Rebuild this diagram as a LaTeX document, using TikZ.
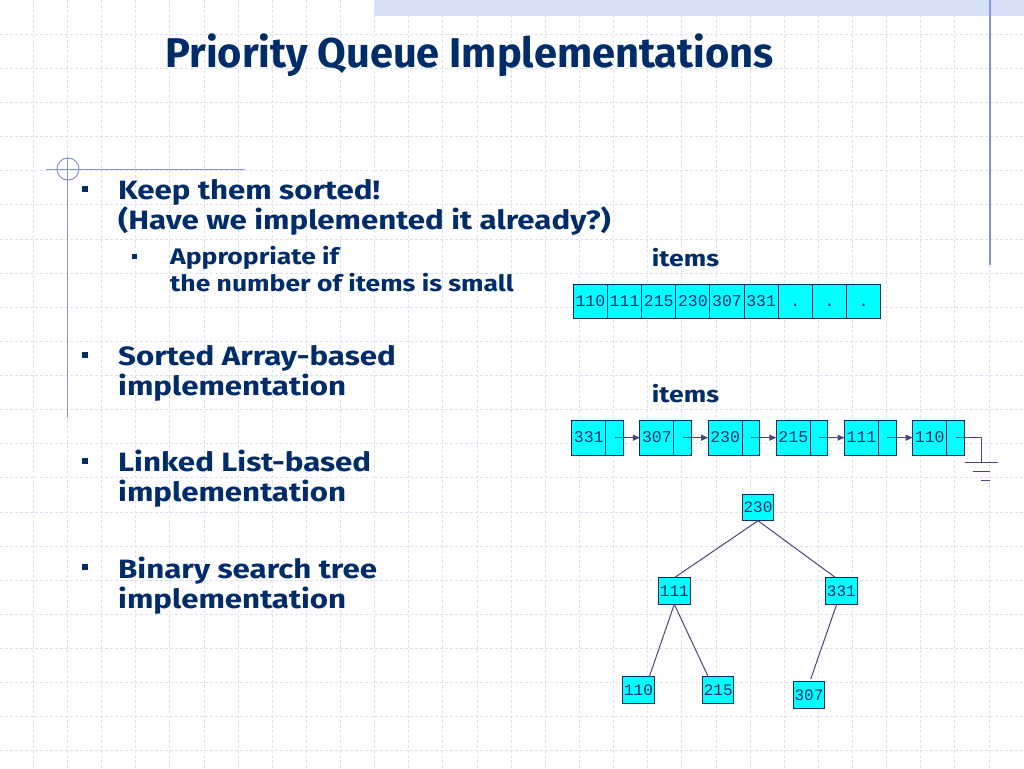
\documentclass[tikz,border=0pt]{standalone}
\usepackage{fontspec}
\setmainfont{Fira Sans}[FakeStretch=1.18]
\newfontfamily\titlefont{Fira Sans}
\setmonofont{Liberation Mono}
\usetikzlibrary{positioning,arrows.meta}

\definecolor{navy}{RGB}{0,45,105}
\definecolor{gridcol}{RGB}{220,224,243}
\definecolor{rulecol}{RGB}{135,148,222}
\definecolor{bandcol}{RGB}{214,224,246}
\definecolor{linkcol}{RGB}{75,70,125}
\definecolor{cellcol}{RGB}{0,255,255}

\begin{document}
\begin{tikzpicture}[x=1pt,y=-1pt,
  every node/.style={text=navy},
  gridline/.style={gridcol,line width=0.8pt,dash pattern=on 3pt off 2pt},
  deco/.style={rulecol,line width=1pt},
  titletext/.style={anchor=base west,inner sep=0pt,font=\titlefont\fontsize{41.6}{48}\selectfont\bfseries},
  bodytext/.style={anchor=base west,inner sep=0pt,align=left,font=\fontsize{26.5}{30}\selectfont\bfseries},
  subtext/.style={anchor=base west,inner sep=0pt,align=left,font=\fontsize{22.5}{27}\selectfont\bfseries},
  bullet/.style={rectangle,fill=navy,inner sep=0pt,minimum size=6.5pt},
  subbullet/.style={rectangle,fill=navy,inner sep=0pt,minimum size=5pt},
  cell/.style={rectangle,draw=navy,fill=cellcol,line width=1pt,inner sep=0pt,outer sep=0pt,
    minimum width=34.15pt,minimum height=34pt,text height=10pt,text depth=0pt,
    font=\fontsize{16.5}{18}\ttfamily},
  lval/.style={cell,minimum width=34pt,minimum height=35pt},
  lptr/.style={cell,minimum width=17.6pt,minimum height=35pt},
  tnode/.style={cell,minimum width=31.5pt,minimum height=26.5pt,font=\fontsize{16}{18}\ttfamily},
  link/.style={linkcol,line width=1pt,-{Triangle[length=7pt,width=6pt]}},
  edge/.style={linkcol,line width=1pt}]

  \useasboundingbox (0,0) rectangle (1024,768);
  \fill[white] (0,0) rectangle (1024,768);

  % background
  \foreach \k in {1,...,22}
    \draw[gridline] (0,{\k*34.13}) -- (1024,{\k*34.13});
  \foreach \k in {1,...,29}
    \draw[gridline] ({\k*34.13-0.8},0) -- ({\k*34.13-0.8},768);
  \fill[bandcol] (374,0) rectangle (1024,16);
  \draw[deco,line width=1.3pt] (990,0) -- (990,265);
  \draw[deco] (46,169) -- (245,169);
  \draw[deco] (67,158) -- (67,418);
  \draw[deco] (68,169) circle (11);

  \node[titletext] (title) at (165,67) {Priority Queue Implementations};

  % bullets
  \node[bullet] (b1) at (85,189) {};
  \node[bodytext] (keep) at (118,229.5) {Keep them sorted!\\(Have we implemented it already?)};
  \node[subbullet] (b11) at (134,256) {};
  \node[subtext] (approp) at (170,291.5) {Appropriate if\\the number of items is small};
  \node[bullet] (b2) at (85,355) {};
  \node[bodytext] (sorted) at (118,395.5) {Sorted Array-based\\implementation};
  \node[bullet] (b3) at (85,461) {};
  \node[bodytext] (linked) at (118,501.7) {Linked List-based\\implementation};
  \node[bullet] (b4) at (85,567) {};
  \node[bodytext] (bst) at (118,608.3) {Binary search tree\\implementation};

  % sorted array
  \node[subtext] (items1) at (651.7,266.7) {items};
  \node[cell] (a1) at (590.4,301) {110};
  \node[cell,right=0pt of a1] (a2) {111};
  \node[cell,right=0pt of a2] (a3) {215};
  \node[cell,right=0pt of a3] (a4) {230};
  \node[cell,right=0pt of a4] (a5) {307};
  \node[cell,right=0pt of a5] (a6) {331};
  \node[cell,right=0pt of a6] (a7) {.};
  \node[cell,right=0pt of a7] (a8) {.};
  \node[cell,right=0pt of a8] (a9) {.};

  % linked list
  \node[subtext] (items2) at (651.7,402.7) {items};
  \node[lval] (v1) at (588.7,437.7) {331};
  \node[lptr,right=0pt of v1] (p1) {};
  \node[lval,right=16.6pt of p1] (v2) {307};
  \node[lptr,right=0pt of v2] (p2) {};
  \node[lval,right=16.6pt of p2] (v3) {230};
  \node[lptr,right=0pt of v3] (p3) {};
  \node[lval,right=16.6pt of p3] (v4) {215};
  \node[lptr,right=0pt of v4] (p4) {};
  \node[lval,right=16.6pt of p4] (v5) {111};
  \node[lptr,right=0pt of v5] (p5) {};
  \node[lval,right=16.6pt of p5] (v6) {110};
  \node[lptr,right=0pt of v6] (p6) {};
  \draw[link] (p1.center) -- (v2.west);
  \draw[link] (p2.center) -- (v3.west);
  \draw[link] (p3.center) -- (v4.west);
  \draw[link] (p4.center) -- (v5.west);
  \draw[link] (p5.center) -- (v6.west);
  \coordinate (gnd) at (981,462.7);
  \draw[edge] (p6.center) -| (gnd);
  \draw[edge] (965,462.7) -- (998,462.7);
  \draw[edge] (972.5,471.7) -- (990,471.7);
  \draw[edge] (981,480.3) -- (990,480.3);

  % search tree
  \node[tnode] (t230) at (758,507.5) {230};
  \node[tnode] (t111) at (674.3,591) {111};
  \node[tnode] (t331) at (841.3,591) {331};
  \node[tnode] (t110) at (638.5,690) {110};
  \node[tnode] (t215) at (718.2,690) {215};
  \node[tnode] (t307) at (809,695) {307};
  \draw[edge] (t230.south) -- (t111.north);
  \draw[edge] (t230.south) -- ([xshift=-5.6pt]t331.north);
  \draw[edge] (t111.south) -- ([xshift=10.8pt]t110.north);
  \draw[edge] (t111.south) -- ([xshift=-10pt]t215.north);
  \draw[edge] ([xshift=-4.6pt]t331.south) -- ([xshift=1.7pt,yshift=2.7pt]t307.north);
\end{tikzpicture}
\end{document}
